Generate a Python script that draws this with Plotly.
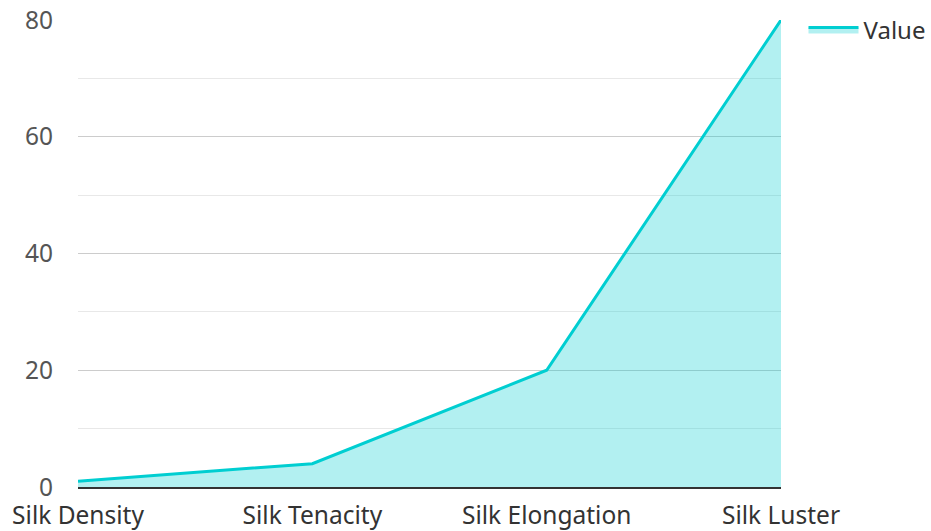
import plotly.graph_objects as go

categories = ["Silk Density", "Silk Tenacity", "Silk Elongation", "Silk Luster"]
values = [1, 4, 20, 80]
series_name = "Value"

fig = go.Figure()
fig.add_trace(go.Scatter(
    x=categories, y=values, name=series_name, mode="lines",
    line=dict(color="#00CED1", width=3),
    fill="tozeroy", fillcolor="rgba(0,206,209,0.3)",
))
fig.update_layout(
    width=931, height=531,
    margin=dict(l=78, r=150, t=20, b=44, autoexpand=False),
    paper_bgcolor="white", plot_bgcolor="white",
    font=dict(family="Noto Sans, Open Sans, sans-serif", size=24.5, color="#333333"),
    showlegend=True,
    legend=dict(x=1.032, y=1.027, xanchor="left", yanchor="top", itemwidth=50,
                font=dict(size=24, color="#333333"), bgcolor="rgba(0,0,0,0)"),
    xaxis=dict(range=[0, 3], showgrid=False, showline=True, linecolor="#333333",
               linewidth=2, ticks="outside", ticklen=6, tickcolor="rgba(0,0,0,0)",
               automargin=False, tickfont=dict(size=24.5, color="#333333")),
    yaxis=dict(range=[0, 80], tickvals=[0, 20, 40, 60, 80], showgrid=True,
               gridcolor="#cccccc", gridwidth=1, zeroline=False, showline=False,
               ticks="outside", ticklen=19, tickcolor="rgba(0,0,0,0)", automargin=False,
               tickfont=dict(size=24.5, color="#555555"),
               minor=dict(tickvals=[10, 30, 50, 70], showgrid=True, gridcolor="#e8e8e8", gridwidth=1)),
)
fig.write_html("out.html", post_script="document.body.style.margin='0';",
               config={"displayModeBar": False})
